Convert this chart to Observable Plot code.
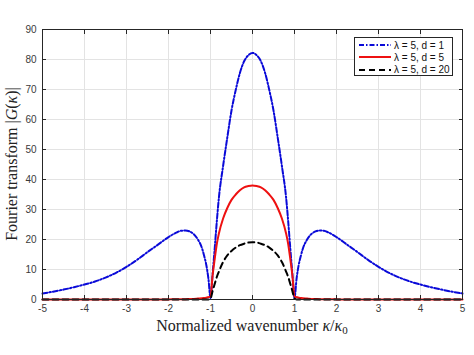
<!DOCTYPE html>
<html>
<head>
<meta charset="utf-8">
<script src="https://cdn.jsdelivr.net/npm/d3@7"></script>
<script src="https://cdn.jsdelivr.net/npm/@observablehq/plot@0.6"></script>
<style>
  html, body { margin: 0; padding: 0; background: #fff; }
  #wrap { position: relative; width: 474px; height: 355px; }
  #legend { position: absolute; left: 354px; top: 37px; width: 99px; height: 39px;
    border: 1px solid #262626; background: #fff; box-sizing: border-box;
    font-family: "Liberation Sans", Arial, sans-serif; font-size: 10px; color: #111; }
  .row { position: absolute; left: 3px; height: 12px; display: flex; align-items: center; }
  .row svg { display: block; }
  .row span { margin-left: 2px; white-space: nowrap; }
</style>
</head>
<body>
<div id="wrap"></div>
<script>
// Normalized wavenumber grid
const kappa = [-5, -4.75, -4.5, -4.25, -4, -3.75, -3.5, -3.25, -3, -2.75, -2.5, -2.25, -2, -1.8, -1.7, -1.6, -1.5, -1.4, -1.3, -1.2, -1.15, -1.1, -1.05, -1,
  -0.95, -0.9, -0.85, -0.8, -0.7, -0.6, -0.5, -0.4, -0.3, -0.2, -0.1, 0,
  0.1, 0.2, 0.3, 0.4, 0.5, 0.6, 0.7, 0.8, 0.85, 0.9, 0.95,
  1, 1.05, 1.1, 1.15, 1.2, 1.3, 1.4, 1.5, 1.6, 1.7, 1.8, 2, 2.25, 2.5, 2.75, 3, 3.25, 3.5, 3.75, 4, 4.25, 4.5, 4.75, 5];

// λ = 5, d = 1
const seriesD1 = [2.0, 2.6, 3.3, 4.1, 5.0, 6.0, 7.3, 8.9, 10.9, 13.2, 15.8, 18.3, 20.8, 22.4, 22.9, 23.0, 22.7, 21.8, 20.0, 17.0, 14.5, 11.5, 7.0, 0.5,
  8.5, 17, 26, 34, 44.5, 54, 63, 69.8, 75.5, 79.4, 81.4, 82.2,
  81.4, 79.4, 75.5, 69.8, 63, 54, 44.5, 34, 26, 17, 8.5,
  0.5, 7.0, 11.5, 14.5, 17.0, 20.0, 21.8, 22.7, 23.0, 22.9, 22.4, 20.8, 18.3, 15.8, 13.2, 10.9, 8.9, 7.3, 6.0, 5.0, 4.1, 3.3, 2.6, 2.0];

// λ = 5, d = 5
const seriesD5 = [0, 0, 0, 0, 0, 0, 0, 0, 0, 0, 0, 0.02, 0.04, 0.06, 0.08, 0.1, 0.15, 0.2, 0.3, 0.4, 0.5, 0.6, 0.8, 1.0,
  8, 13.5, 18.5, 22, 27, 30.5, 33.2, 35, 36.4, 37.4, 37.8, 38,
  37.8, 37.4, 36.4, 35, 33.2, 30.5, 27, 22, 18.5, 13.5, 8,
  1.0, 0.8, 0.6, 0.5, 0.4, 0.3, 0.2, 0.15, 0.1, 0.08, 0.06, 0.04, 0.02, 0, 0, 0, 0, 0, 0, 0, 0, 0, 0, 0];

// λ = 5, d = 20
const seriesD20 = [0, 0, 0, 0, 0, 0, 0, 0, 0, 0, 0, 0, 0, 0, 0, 0, 0, 0, 0, 0, 0, 0, 0, 0.3,
  2.8, 5.2, 7.5, 9.3, 12.5, 14.7, 16.2, 17.3, 18.1, 18.6, 19, 19.1,
  19, 18.6, 18.1, 17.3, 16.2, 14.7, 12.5, 9.3, 7.5, 5.2, 2.8,
  0.3, 0, 0, 0, 0, 0, 0, 0, 0, 0, 0, 0, 0, 0, 0, 0, 0, 0, 0, 0, 0, 0, 0, 0];

const seriesNames = ["λ = 5, d = 1", "λ = 5, d = 5", "λ = 5, d = 20"];
const xTicks = [-5, -4, -3, -2, -1, 0, 1, 2, 3, 4, 5];
const yTicks = [0, 10, 20, 30, 40, 50, 60, 70, 80, 90];

const styles = [
  {stroke: "#0a0ad8", dash: "5,2,1.5,2"},
  {stroke: "#ee1111", dash: null},
  {stroke: "#000000", dash: "6,4"}
];

const tables = [seriesD1, seriesD5, seriesD20].map(vals => kappa.map((k, i) => ({k, v: vals[i]})));

const axisColor = "#262626";
const labelColor = "#3a3a3a";
const gridColor = "#e3e3e3";

const chart = Plot.plot({
  width: 474,
  height: 355,
  marginLeft: 42,
  marginRight: 12,
  marginTop: 29,
  marginBottom: 56,
  style: {fontFamily: "'Liberation Sans', Arial, sans-serif", fontSize: "10px", color: labelColor, background: "#fff"},
  x: {domain: [-5, 5]},
  y: {domain: [0, 90]},
  marks: [
    Plot.gridX(xTicks, {stroke: gridColor, strokeOpacity: 1}),
    Plot.gridY(yTicks, {stroke: gridColor, strokeOpacity: 1}),
    Plot.axisX(xTicks, {anchor: "bottom", tickSize: -4, tickPadding: 9, label: null, tickFormat: d => d, stroke: axisColor, fill: labelColor}),
    Plot.axisX(xTicks, {anchor: "top", tickSize: -4, label: null, tickFormat: () => "", stroke: axisColor}),
    Plot.axisY(yTicks, {anchor: "left", tickSize: -4, tickPadding: 10, label: null, tickFormat: d => d, stroke: axisColor, fill: labelColor}),
    Plot.axisY(yTicks, {anchor: "right", tickSize: -4, label: null, tickFormat: () => "", stroke: axisColor}),
    ...tables.map((t, i) => Plot.line(t, {x: "k", y: "v", stroke: styles[i].stroke, strokeWidth: 2, strokeDasharray: styles[i].dash, curve: "monotone-x"})),
    Plot.frame({stroke: axisColor, strokeWidth: 1})
  ]
});

const svg = d3.select(chart);
// axis titles with italic math
const xl = svg.append("text")
  .attr("x", 252).attr("y", 331)
  .attr("text-anchor", "middle")
  .attr("font-family", "'Liberation Serif', 'Times New Roman', serif")
  .attr("font-size", 16).attr("fill", "#222");
xl.append("tspan").text("Normalized wavenumber ");
xl.append("tspan").attr("font-style", "italic").text("κ");
xl.append("tspan").text("/");
xl.append("tspan").attr("font-style", "italic").text("κ");
xl.append("tspan").attr("font-size", 11).attr("dy", 3).text("0");

const yl = svg.append("text")
  .attr("transform", "translate(17,164) rotate(-90)")
  .attr("text-anchor", "middle")
  .attr("font-family", "'Liberation Serif', 'Times New Roman', serif")
  .attr("font-size", 16).attr("fill", "#222");
yl.append("tspan").text("Fourier transform |");
yl.append("tspan").attr("font-style", "italic").text("G");
yl.append("tspan").text("(");
yl.append("tspan").attr("font-style", "italic").text("κ");
yl.append("tspan").text(")|");

const wrap = document.getElementById("wrap");
wrap.appendChild(chart);

// legend
const legend = document.createElement("div");
legend.id = "legend";
seriesNames.forEach((name, i) => {
  const row = document.createElement("div");
  row.className = "row";
  row.style.top = (1 + i * 12.3) + "px";
  const s = d3.create("svg").attr("width", 34).attr("height", 12);
  s.append("line").attr("x1", 1).attr("x2", 33).attr("y1", 6).attr("y2", 6)
    .attr("stroke", styles[i].stroke).attr("stroke-width", 2)
    .attr("stroke-dasharray", styles[i].dash);
  row.appendChild(s.node());
  const sp = document.createElement("span");
  sp.textContent = name;
  row.appendChild(sp);
  legend.appendChild(row);
});
wrap.appendChild(legend);
</script>
</body>
</html>
